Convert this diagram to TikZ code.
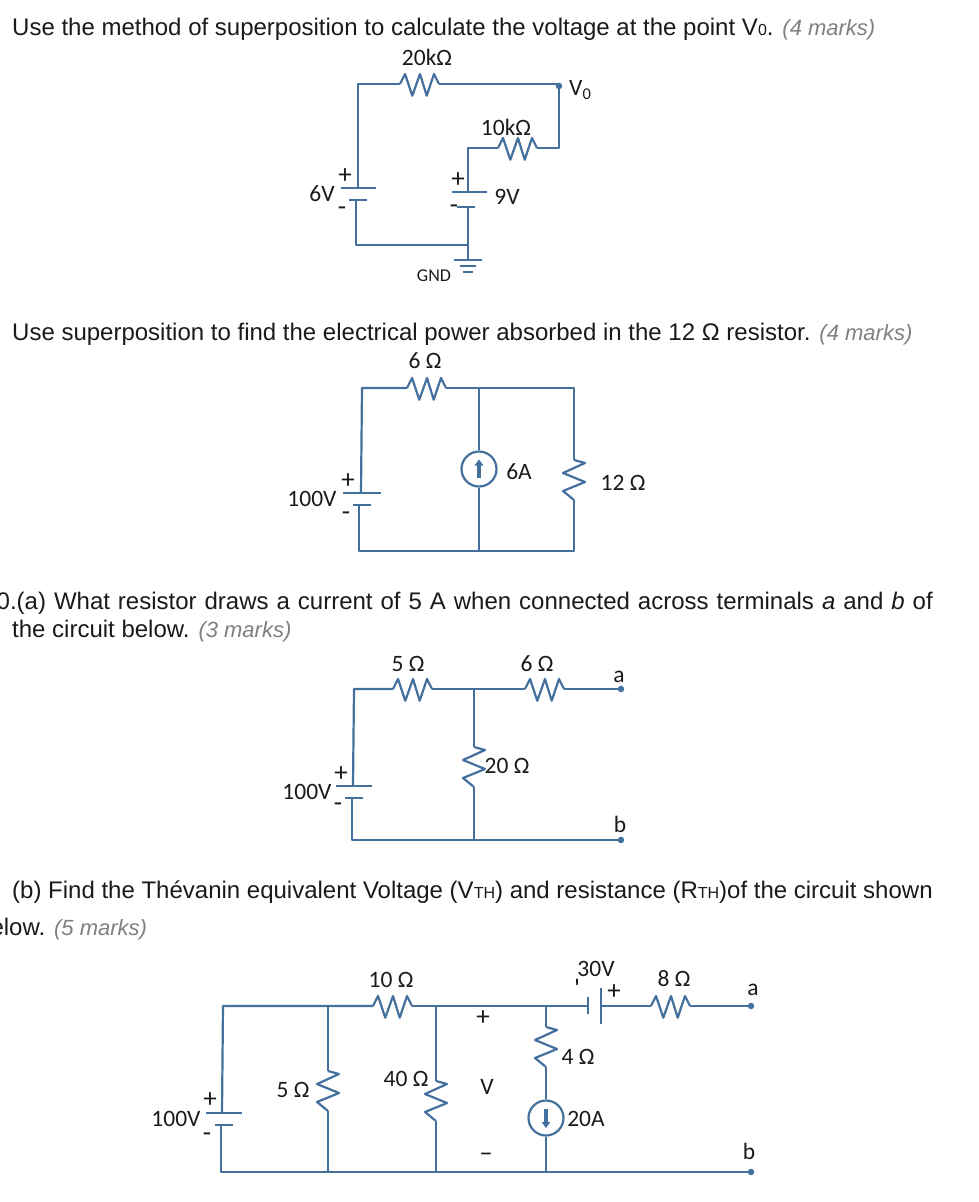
\documentclass[tikz,border=0pt]{standalone}
\usepackage{fontspec}
\setmainfont{Liberation Sans}
\newfontfamily\calfont{Carlito}
\usetikzlibrary{arrows.meta}
\definecolor{wire}{HTML}{44709D}
\definecolor{marks}{HTML}{7F7F7F}
\definecolor{ink}{HTML}{1A1A1A}
\tikzset{
  wireline/.style={draw=wire,line width=2.2pt,line join=round},
  para/.style={anchor=base west,inner sep=0pt,font=\fontsize{24}{27}\selectfont,text=ink},
  lab/.style={inner sep=0pt,font=\calfont\fontsize{23.5}{26}\selectfont,text=ink},
  smalllab/.style={inner sep=0pt,font=\calfont\fontsize{18}{20}\selectfont,text=ink},
  sign/.style={inner sep=0pt,font=\calfont\fontsize{27}{30}\selectfont,text=ink},
  term/.style={circle,fill=wire,inner sep=0pt,minimum size=6.5pt},
  source/.style={circle,draw=wire,line width=2.2pt,inner sep=0pt,minimum size=35pt},
  flowarrow/.style={wire,line width=3.4pt,-{Triangle[length=6pt,width=8.5pt]}},
  hres/.pic={
    \draw[wireline] (0,0) -- (5,-10) -- (12.3,11.7) -- (20,-10) -- (26.7,11.7) -- (34,-10) -- (39,0);
    \coordinate (-l) at (0,0); \coordinate (-r) at (39,0);
  },
  vres/.pic={
    \draw[wireline] (0,0) -- (11,3) -- (-11,13) -- (11,22) -- (-11,31) -- (0,40);
    \coordinate (-t) at (0,0); \coordinate (-b) at (0,40);
  },
}
\newcommand{\plate}[3]{\draw[wireline] (#1,#3) -- (#2,#3);}
\newcommand{\marksnote}[1]{{\fontsize{22}{26}\selectfont\itshape\color{marks}#1}}
\begin{document}
\begin{tikzpicture}[x=1pt,y=-1pt]
\useasboundingbox (0,0) rectangle (978,1202);
\clip (0,0) rectangle (978,1202);

% ---------- text
\node[para] (t1) at (12,35) {Use the method of superposition to calculate the voltage at the point V{\fontsize{16}{16}\selectfont 0}. \marksnote{(4 marks)}};
\node[para] (t2) at (12,340) {Use superposition to find the electrical power absorbed in the 12 Ω resistor. \marksnote{(4 marks)}};
\node[para] (t3) at (-3.5,609) {\makebox[936pt][s]{0.(a) What resistor draws a current of 5 A when connected across terminals \textit{a} and \textit{b} of}};
\node[para] (t4) at (12,637) {the circuit below. \marksnote{(3 marks)}};
\node[para] (t5) at (12,898) {(b) Find the Thévanin equivalent Voltage (V{\fontsize{16}{16}\selectfont TH}) and resistance (R{\fontsize{16}{16}\selectfont TH})of the circuit shown};
\node[para] (t6) at (-23,935) {below. \marksnote{(5 marks)}};

% ---------- circuit 1
\pic (ra) at (400,84) {hres};
\pic (rb) at (498,148) {hres};
\node[term] (vo) at (559,86) {};
\coordinate (a1) at (358,84);
\coordinate (a2) at (358,188);
\coordinate (a3) at (356,200);
\coordinate (a4) at (356,245);
\coordinate (a5) at (468,245);
\coordinate (a6) at (468,148);
\coordinate (a7) at (468,192);
\coordinate (a8) at (468,207);
\coordinate (a9) at (468,260);
\coordinate (a10) at (559,148);
\draw[wireline] (a2) -- (a1) -- (ra-l);
\draw[wireline] (ra-r) -- (ra-r -| vo.center) -- (a10) -- (rb-r);
\draw[wireline] (rb-l) -- (a6) -- (a7);
\draw[wireline] (a3) -- (a4) -- (a5);
\draw[wireline] (a8) -- (a9);
\plate{341}{376}{188}
\plate{349}{367}{200}
\plate{452}{487}{192}
\plate{457}{475}{207}
\plate{454}{482}{260}
\plate{460}{476}{266}
\plate{463}{473}{272}
\node[lab] (l20k) at (427,57) {20kΩ};
\node[lab] (l10k) at (506,127) {10kΩ};
\node[lab,anchor=west] (lvo) at (569,90) {V\textsubscript{0}};
\node[lab] (l6v) at (322,194) {6V};
\node[lab] (l9v) at (507,197) {9V};
\node[smalllab] (lgnd) at (434,276) {GND};
\node[sign] (pa) at (345,176) {+};
\node[sign] (ma) at (342,211) {-};
\node[sign] (pb) at (458,180) {+};
\node[sign] (mb) at (454,209) {-};

% ---------- circuit 2
\pic (rc) at (407,388) {hres};
\pic (rd) at (574,460) {vres};
\node[source] (ia) at (479,469) {};
\coordinate (b1) at (362,388);
\coordinate (b2) at (361,493);
\coordinate (b3) at (359,505);
\coordinate (b4) at (359,551);
\coordinate (b5) at (479,388);
\coordinate (b6) at (574,388);
\coordinate (b7) at (479,551);
\coordinate (b8) at (574,551);
\draw[wireline] (b2) -- (b1) -- (rc-l);
\draw[wireline] (rc-r) -- (b5) -- (b6) -- (rd-t);
\draw[wireline] (rd-b) -- (b8) -- (b7) -- (b4) -- (b3);
\draw[wireline] (b5) -- (ia) (ia) -- (b7);
\draw[flowarrow] (479,477.5) -- (479,459.5);
\plate{343}{381}{493}
\plate{353}{371}{505}
\node[lab] (l6a) at (425,361) {6 Ω};
\node[lab] (l6b) at (519,472) {6A};
\node[lab] (l12) at (623,483) {12 Ω};
\node[lab] (l100a) at (312,499) {100V};
\node[sign] (pc) at (348,481) {+};
\node[sign] (mc) at (346,516) {-};

% ---------- circuit 3
\pic (re) at (393,689) {hres};
\pic (rf) at (525,689) {hres};
\pic (rg) at (474,747) {vres};
\node[term] (ta) at (621,689) {};
\node[term] (tb) at (621,840) {};
\coordinate (c1) at (354,689);
\coordinate (c2) at (353,786);
\coordinate (c3) at (352,798);
\coordinate (c4) at (352,840);
\coordinate (c5) at (474,689);
\coordinate (c6) at (474,840);
\draw[wireline] (c2) -- (c1) -- (re-l);
\draw[wireline] (re-r) -- (c5) -- (rf-l);
\draw[wireline] (rf-r) -- (ta.center);
\draw[wireline] (c5) -- (rg-t);
\draw[wireline] (rg-b) -- (c6);
\draw[wireline] (c3) -- (c4) -- (c6) -- (tb.center);
\plate{336}{372}{786}
\plate{345}{363}{798}
\node[lab] (l5a) at (408,664) {5 Ω};
\node[lab] (l6c) at (537,664) {6 Ω};
\node[lab] (la1) at (619,677) {a};
\node[lab] (lb1) at (620,824) {b};
\node[lab] (l20) at (507,766) {20 Ω};
\node[lab] (l100b) at (307,792) {100V};
\node[sign] (pd) at (341,774) {+};
\node[sign] (md) at (338,807) {-};

% ---------- circuit 4
\pic (rh) at (373,1006) {hres};
\pic (ri) at (651,1006) {hres};
\pic (rj) at (328,1071) {vres};
\pic (rk) at (436,1081) {vres};
\pic (rl) at (546,1027) {vres};
\node[source] (ib) at (546,1118) {};
\node[term] (tc) at (751,1006) {};
\node[term] (td) at (751,1172) {};
\coordinate (d1) at (223,1006);
\coordinate (d2) at (222,1113);
\coordinate (d3) at (221,1125);
\coordinate (d4) at (221,1172);
\coordinate (d5) at (328,1006);
\coordinate (d6) at (436,1006);
\coordinate (d7) at (546,1006);
\coordinate (d8) at (588,1006);
\coordinate (d9) at (601,1006);
\coordinate (d10) at (328,1172);
\coordinate (d11) at (436,1172);
\coordinate (d12) at (546,1172);
\draw[wireline] (d2) -- (d1) -- (d5) -- (rh-l);
\draw[wireline] (rh-r) -- (d6) -- (d7) -- (d8);
\draw[wireline] (d9) -- (ri-l);
\draw[wireline] (ri-r) -- (tc.center);
\draw[wireline] (d5) -- (rj-t);
\draw[wireline] (rj-b) -- (d10);
\draw[wireline] (d6) -- (rk-t);
\draw[wireline] (rk-b) -- (d11);
\draw[wireline] (d7) -- (rl-t);
\draw[wireline] (rl-b) -- (ib);
\draw[wireline] (ib) -- (d12);
\draw[wireline] (d3) -- (d4) -- (td.center);
\draw[flowarrow] (546,1109) -- (546,1128);
\plate{206}{242}{1113}
\plate{215}{233}{1125}
\draw[wireline] (588,997) -- (588,1014);
\draw[wireline] (601,988) -- (601,1024);
\node[lab] (l10) at (391,980) {10 Ω};
\node[lab] (l40) at (406,1079) {40 Ω};
\node[lab] (l5b) at (293,1090) {5 Ω};
\node[lab] (l100c) at (176,1119) {100V};
\node[sign] (pe) at (210,1100) {+};
\node[sign] (me) at (207,1137) {-};
\node[lab] (l30) at (596,969) {30V};
\node[sign] (mf) at (577,988) {'};
\node[sign] (pf) at (614,992) {+};
\node[lab] (l8) at (674,979) {8 Ω};
\node[lab] (la2) at (753,990) {a};
\node[lab] (lb2) at (749,1151) {b};
\node[sign] (pv) at (483,1018) {+};
\node[lab] (lv) at (487,1087) {V};
\node[sign] (mv) at (486,1157) {–};
\node[lab] (l4) at (578,1057) {4 Ω};
\node[lab] (l20a) at (586,1119) {20A};
\end{tikzpicture}
\end{document}
